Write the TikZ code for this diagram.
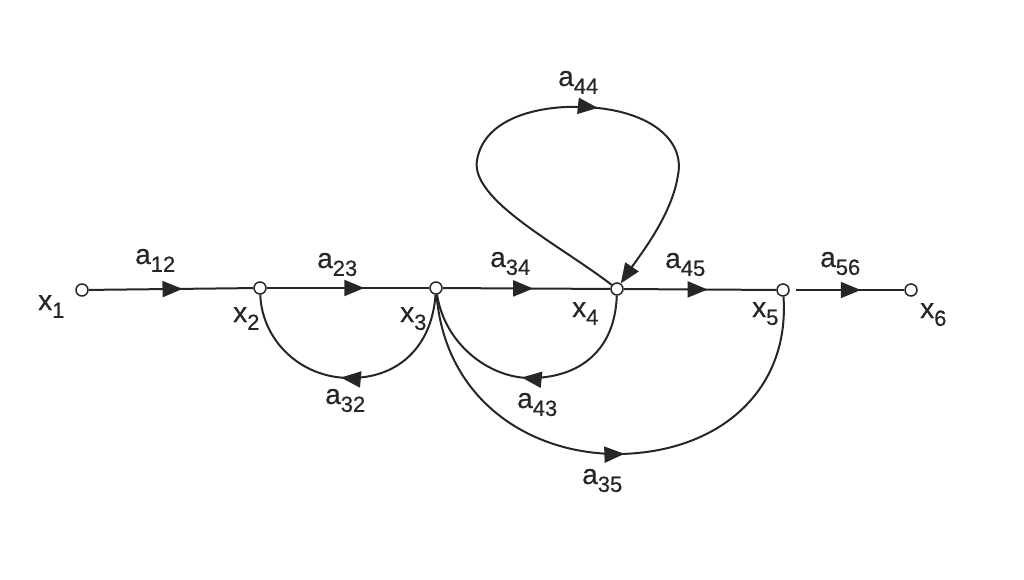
\documentclass[tikz,border=0pt]{standalone}
\usepackage{fontspec}
\setmainfont[FakeBold=0.5]{Liberation Sans}
\usetikzlibrary{arrows.meta,decorations.markings}
\newcommand\lbl[2]{\fontsize{28}{30}\selectfont #1\raisebox{-0.28em}{\fontsize{22}{24}\selectfont #2}}
\tikzset{
  vtx/.style={circle,draw=black!85,fill=white,line width=1.5pt,inner sep=0pt,minimum size=12pt},
  edge/.style={line width=2pt,draw=black!85},
  midarrow/.style={postaction={decorate,decoration={markings,mark=at position #1 with {\arrow{Triangle[length=20pt,width=16pt]}}}}},
  endtri/.style={-{Triangle[length=20pt,width=16pt]}},
  lab/.style={anchor=base west,inner sep=0pt,text=black!85}
}
\begin{document}
\begin{tikzpicture}[x=1pt,y=-1pt]
\useasboundingbox (0,0) rectangle (1024,580);
% vertices
\node[vtx] (x1) at (82,290) {};
\node[vtx] (x2) at (260,288) {};
\node[vtx] (x3) at (436,288) {};
\node[vtx] (x4) at (617,289) {};
\node[vtx] (x5) at (783,290) {};
\node[vtx] (x6) at (911,290) {};
% straight edges
\draw[edge,midarrow=0.57] (x1) -- (x2);
\draw[edge,midarrow=0.6] (x2) -- (x3);
\draw[edge,midarrow=0.54] (x3) -- (x4);
\draw[edge,midarrow=0.55] (x4) -- (x5);
\draw[edge,midarrow=0.62,shorten <=6pt] (x5) -- (x6);
% a32
\draw[edge,midarrow=0.53] (x3) .. controls (432,345) and (400,378) .. (350,378)
  .. controls (300,378) and (262,340) .. (x2);
% a43
\draw[edge,midarrow=0.53] (x4) .. controls (615,350) and (580,378) .. (530,378)
  .. controls (490,378) and (445,345) .. (x3);
% a35
\draw[edge,midarrow=0.52] (x3) .. controls (445,400) and (530,455) .. (620,454)
  .. controls (720,452) and (790,390) .. (x5);
% a44 self loop
\draw[edge,endtri,midarrow=0.58] (x4) .. controls (560,245) and (470,200) .. (477,160)
  .. controls (485,115) and (545,105) .. (585,107)
  .. controls (650,110) and (685,140) .. (678,175)
  .. controls (672,215) and (640,255) .. (x4);
% edge labels
\node[lab] (l12) at (135,264) {\lbl{a}{12}};
\node[lab] (l23) at (317,268) {\lbl{a}{23}};
\node[lab] (l34) at (490,267) {\lbl{a}{34}};
\node[lab] (l45) at (665,268) {\lbl{a}{45}};
\node[lab] (l56) at (820,267) {\lbl{a}{56}};
\node[lab] (l44) at (558,86) {\lbl{a}{44}};
\node[lab] (l32) at (325,404) {\lbl{a}{32}};
\node[lab] (l43) at (517,408) {\lbl{a}{43}};
\node[lab] (l35) at (582,484) {\lbl{a}{35}};
% vertex labels
\node[lab] (t1) at (38,310) {\lbl{x}{1}};
\node[lab] (t2) at (233,322) {\lbl{x}{2}};
\node[lab] (t3) at (400,322) {\lbl{x}{3}};
\node[lab] (t4) at (572,317) {\lbl{x}{4}};
\node[lab] (t5) at (752,317) {\lbl{x}{5}};
\node[lab] (t6) at (920,318) {\lbl{x}{6}};
\end{tikzpicture}
\end{document}
